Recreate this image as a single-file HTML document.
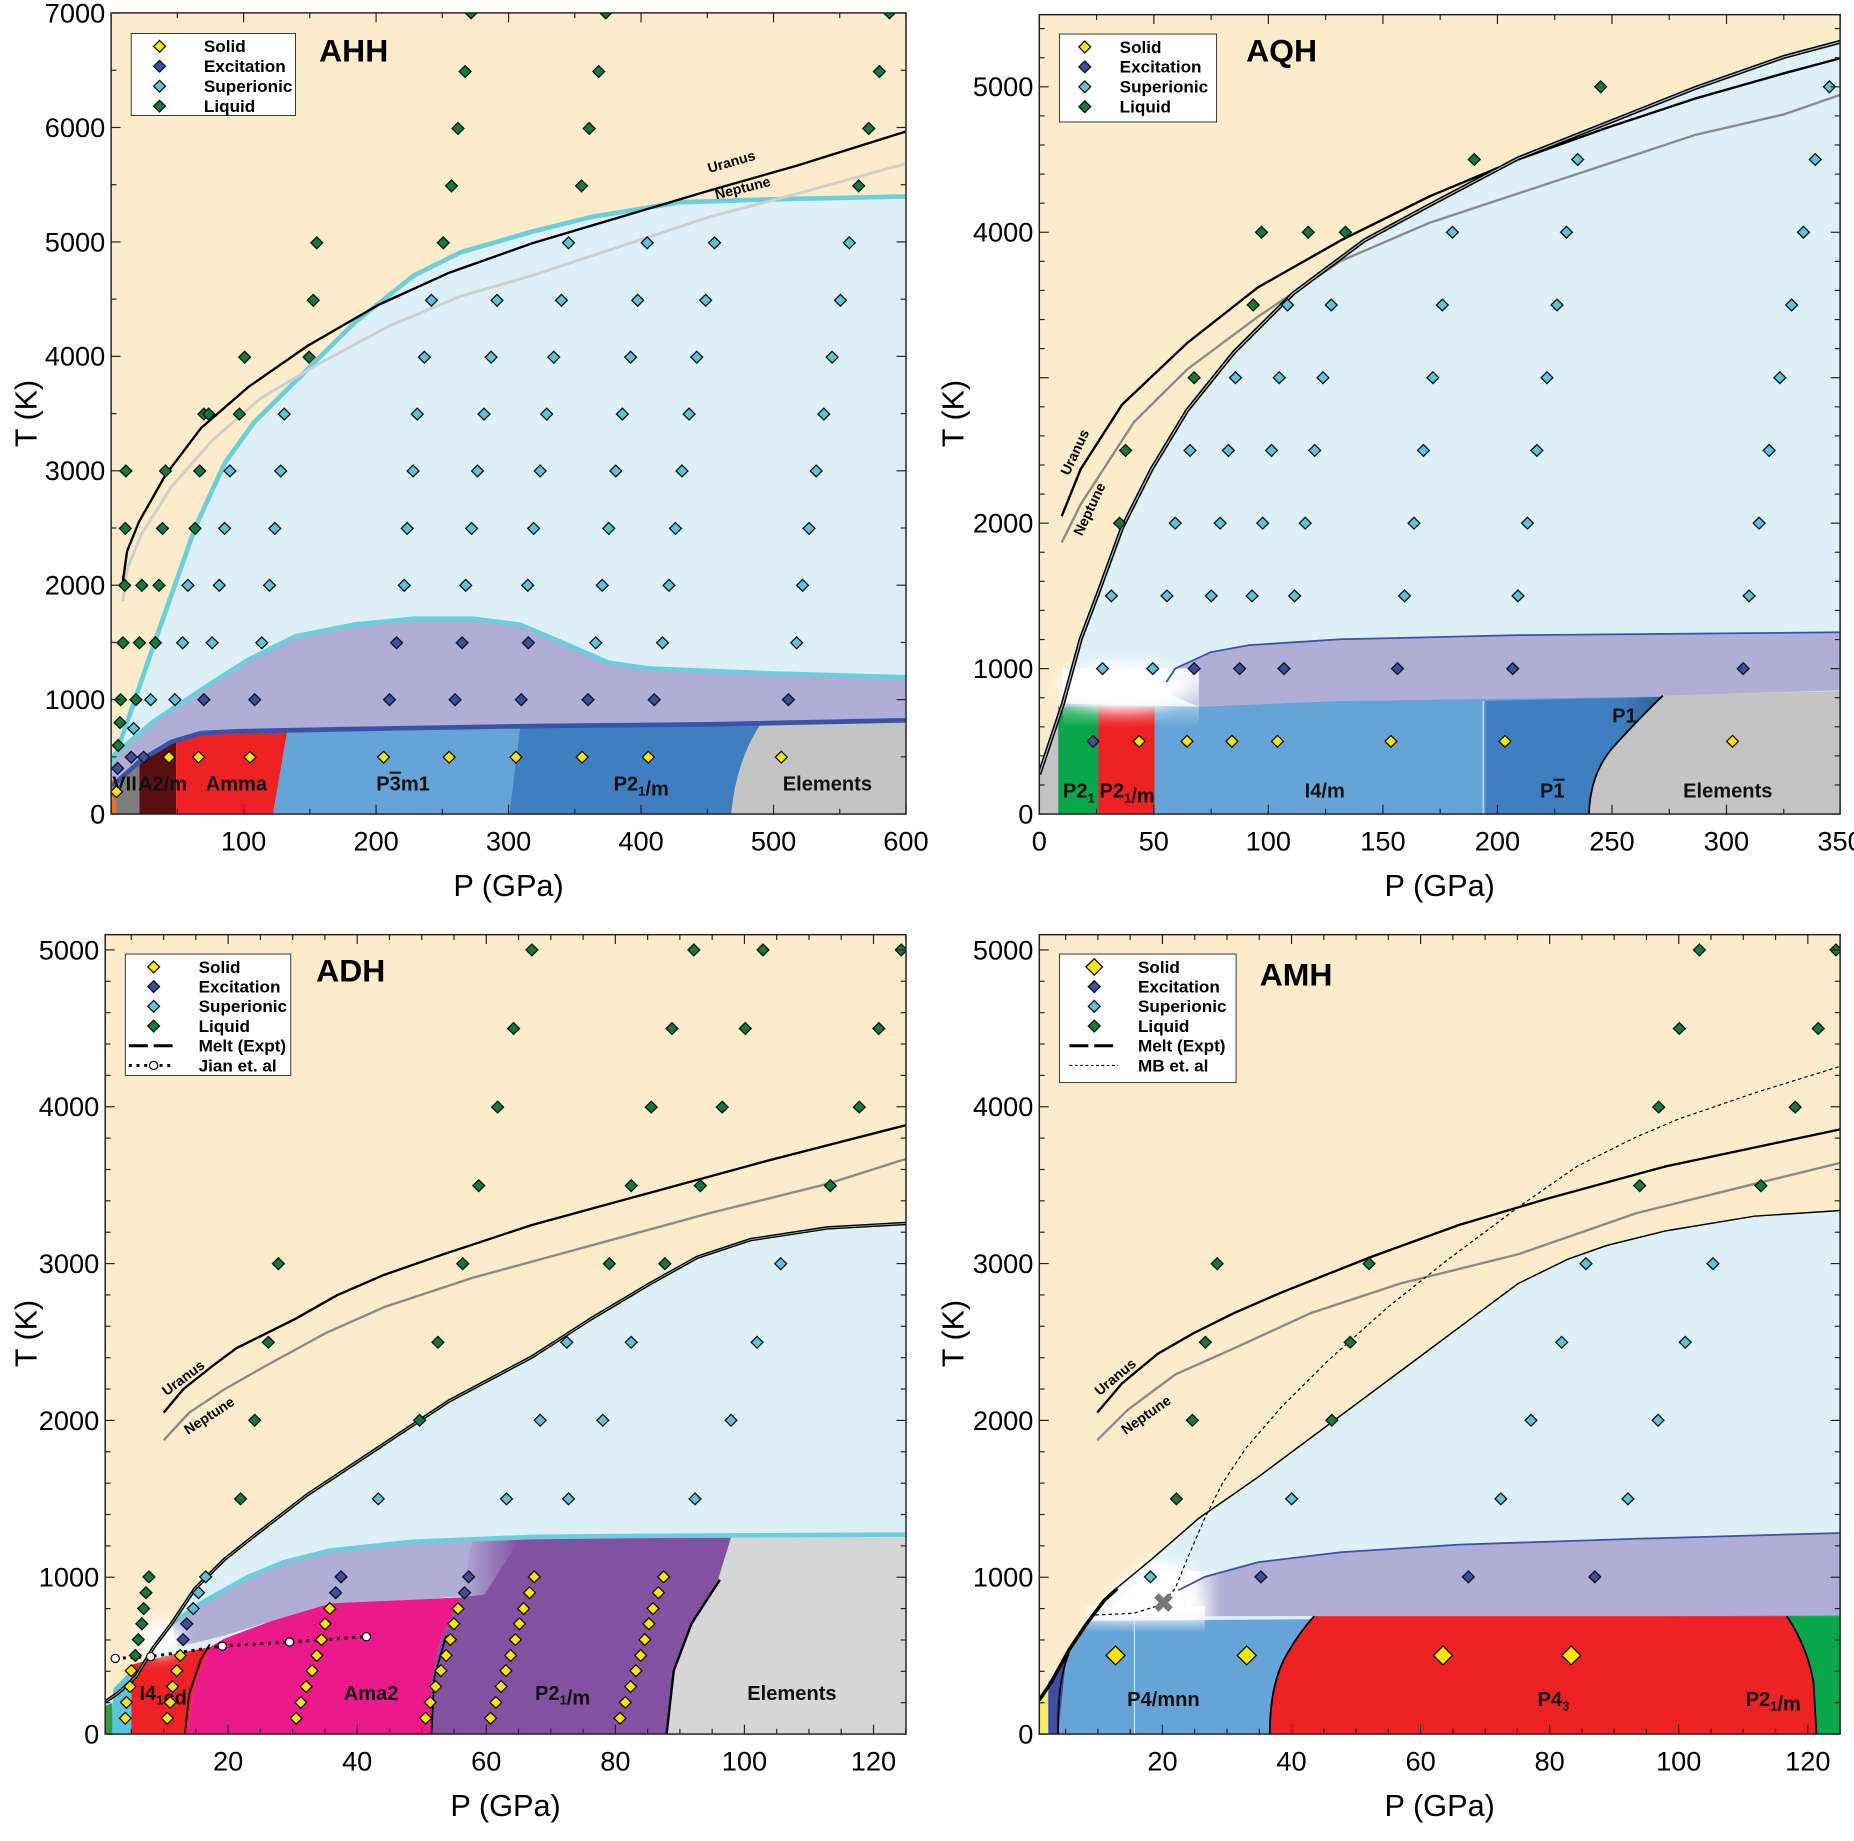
<!DOCTYPE html>
<html><head><meta charset="utf-8"><style>
html,body{margin:0;padding:0;background:#fff;}
svg{display:block;}
text{font-family:"Liberation Sans",Arial,sans-serif;}
</style></head><body>
<svg id="s" xmlns="http://www.w3.org/2000/svg" width="1854" height="1841" viewBox="0 0 1854 1841">
<defs>
<linearGradient id="fadeL" x1="0" x2="1" y1="0" y2="0"><stop offset="0" stop-color="#fff" stop-opacity="1"/><stop offset="1" stop-color="#fff" stop-opacity="0"/></linearGradient>
<linearGradient id="fadeT" x1="0" x2="0" y1="0" y2="1"><stop offset="0" stop-color="#fff" stop-opacity="1"/><stop offset="1" stop-color="#fff" stop-opacity="0"/></linearGradient>
<linearGradient id="pblue" x1="0" x2="1" y1="0" y2="0"><stop offset="0" stop-color="#3f7fc0"/><stop offset="0.75" stop-color="#3f7fc0"/><stop offset="1" stop-color="#2b5a8a"/></linearGradient>
<linearGradient id="lavP" x1="0" x2="1" y1="0" y2="0"><stop offset="0" stop-color="#b0aed6"/><stop offset="1" stop-color="#8251a0"/></linearGradient>
<filter id="blur" x="-50%" y="-50%" width="200%" height="200%"><feGaussianBlur stdDeviation="12"/></filter>
</defs>
</svg>
<script>
const NS="http://www.w3.org/2000/svg";
const svg=document.getElementById('s');
const SX=0.591,SY=0.5865;
function el(p,tag,attrs,txt){const e=document.createElementNS(NS,tag);for(const k in attrs)e.setAttribute(k,attrs[k]);if(txt!==undefined)e.textContent=txt;p.appendChild(e);return e;}
function L(pts){return 'M'+pts.map(p=>p[0]+','+p[1]).join(' L');}
const CREAM='#fdecca',SUP='#def0f7',LAV='#b0aed6',CYAN='#6ccedd',BLU='#3a52a8',RED='#ee2224',LB='#66a3d6',DB='#3f7fc0',GR='#c4c4c4',GRN='#0aa64a';
const COL={L:'#137a3f',S:'#5cc3d9',E:'#3d4fa0',Y:'#ffe600'};
function dia(g,x,y,c,r){r=r||10;el(g,'path',{d:`M${x},${y-r} L${x+r},${y} L${x},${y+r} L${x-r},${y} Z`,fill:COL[c]||c,stroke:'#111','stroke-width':2.2});}
let uid=0;
function panel(cfg){
  const g=el(svg,'g',{transform:`translate(${cfg.ox},${cfg.oy}) scale(${SX},${SY})`});
  const [x0,x1,y0,y1]=cfg.rect;
  const id='c'+(uid++);
  const cp=el(g,'clipPath',{id});el(cp,'rect',{x:x0,y:y0,width:x1-x0,height:y1-y0});
  const pg=el(g,'g',{'clip-path':`url(#${id})`});
  el(pg,'rect',{x:x0,y:y0,width:x1-x0,height:y1-y0,fill:CREAM});
  cfg.draw(pg);
  const tg=el(g,'g',{stroke:'#222','stroke-width':2});
  for(let P=cfg.xt[0];P<=cfg.xt[1]+1e-9;P+=cfg.xt[2]){
    let x=cfg.xa+cfg.xb*P; if(x<x0-4||x>x1+4)continue; x=Math.min(Math.max(x,x0),x1);
    const maj=Math.abs(P/cfg.xt[3]-Math.round(P/cfg.xt[3]))<1e-6; const l=maj?16:9;
    el(tg,'line',{x1:x,x2:x,y1:y1,y2:y1-l});el(tg,'line',{x1:x,x2:x,y1:y0,y2:y0+l});
    if(maj&&cfg.xl.includes(P))el(g,'text',{x:x,y:y1+62,'font-size':46,'text-anchor':'middle',fill:'#000'},P);
  }
  for(let T=0;T<=cfg.yt[1]+1e-9;T+=cfg.yt[0]){
    const y=y1-cfg.yb*T; if(y<y0-1)continue;
    const maj=T%1000==0; const l=maj?16:9;
    el(tg,'line',{x1:x0,x2:x0+l,y1:y,y2:y});el(tg,'line',{x1:x1,x2:x1-l,y1:y,y2:y});
    if(maj&&cfg.yl.includes(T))el(g,'text',{x:x0-10,y:y+16,'font-size':46,'text-anchor':'end',fill:'#000'},T);
  }
  el(g,'rect',{x:x0,y:y0,width:x1-x0,height:y1-y0,fill:'none',stroke:'#222','stroke-width':2.5});
  el(g,'text',{x:(x0+x1)/2,y:y1+140,'font-size':52,'text-anchor':'middle'},'P (GPa)');
  el(g,'text',{x:0,y:0,'font-size':52,'text-anchor':'middle',transform:`translate(62,705) rotate(-90)`},'T (K)');
  const lg=cfg.leg;
  el(g,'rect',{x:lg.x,y:lg.y,width:lg.w,height:lg.h,fill:'#fff',stroke:'#222','stroke-width':1.5});
  const names=[['Y','Solid'],['E','Excitation'],['S','Superionic'],['L','Liquid']].concat(lg.extra||[]);
  names.forEach((n,i)=>{const y=lg.y+22+i*lg.dy;
    if(n[0]=='melt'){el(g,'line',{x1:lg.mx-42,x2:lg.mx+35,y1:y,y2:y,stroke:'#000','stroke-width':5,'stroke-dasharray':'32,10'});}
    else if(n[0]=='jian'){el(g,'line',{x1:lg.mx-42,x2:lg.mx+35,y1:y,y2:y,stroke:'#000','stroke-width':5,'stroke-dasharray':'5,8'});el(g,'circle',{cx:lg.mx,cy:y,r:7,fill:'#fff',stroke:'#000','stroke-width':2});}
    else if(n[0]=='mb'){el(g,'line',{x1:lg.mx-42,x2:lg.mx+40,y1:y,y2:y,stroke:'#000','stroke-width':2,'stroke-dasharray':'5,4'});}
    else dia(g,lg.mx,y,n[0],(n[0]=='Y'&&lg.big)?14:10);
    el(g,'text',{x:lg.tx,y:y+10,'font-size':29,'font-weight':'bold'},n[1]);
  });
  el(g,'text',{x:cfg.title[1],y:cfg.title[2],'font-size':54,'font-weight':'bold'},cfg.title[0]);
  return g;
}
function lbl(g,x,y,t,anchor,sz){const e=el(g,'text',{x,y,'font-size':sz||34,'font-weight':'bold','text-anchor':anchor||'middle',fill:'#111'});e.innerHTML=t;return e;}
function rot(g,x,y,a,t){el(g,'text',{x:0,y:0,'font-size':24,'font-weight':'bold',transform:`translate(${x},${y}) rotate(${a})`},t);}
const sub=s=>`<tspan font-size="22" dy="8">${s}</tspan><tspan dy="-8"></tspan>`;
function pts(g,c,arr,r){arr.forEach(p=>dia(g,p[0],p[1],c,r));}

/* ---------- TL AHH ---------- */
panel({ox:0,oy:0,rect:[188,1533,22,1388],xa:188,xb:2.2417,xt:[0,600,50,100],xl:[100,200,300,400,500,600],yb:0.1951,yt:[500,7000],yl:[0,1000,2000,3000,4000,5000,6000,7000],
leg:{x:222,y:57,w:278,h:140,dy:34,mx:270,tx:345},title:['AHH',540,105],
draw(g){
 const cy=[[190,1300],[195,1290],[260,1100],[330,900],[380,790],[430,720],[480,670],[600,550],[700,470],[780,430],[900,395],[1000,370],[1150,345],[1300,340],[1533,335]];
 el(g,'path',{d:L(cy.concat([[1540,335],[1540,1388],[188,1388]]))+'Z',fill:SUP});
 const lt=[[190,1290],[260,1230],[350,1170],[420,1125],[500,1085],[600,1065],[700,1055],[800,1055],[880,1065],[950,1095],[1030,1130],[1100,1140],[1300,1148],[1540,1155]];
 const bl=[[190,1340],[240,1295],[290,1265],[340,1250],[400,1247],[600,1243],[900,1238],[1200,1235],[1540,1228]];
 el(g,'path',{d:L(lt.concat(bl.slice().reverse()))+'Z',fill:LAV});
 el(g,'path',{d:L(bl.concat([[1540,1388],[188,1388]]))+'Z',fill:GR});
 el(g,'path',{d:L(bl.slice(0,3).concat([[236,1300],[236,1388],[188,1388]]))+'Z',fill:'#7d7d7d'});
 el(g,'rect',{x:188,y:1330,width:9,height:58,fill:'#e8742a'});
 el(g,'path',{d:'M236,1300 L290,1265 L298,1262 L298,1388 L236,1388Z',fill:'#5a1010'});
 el(g,'path',{d:'M298,1262 L340,1250 L400,1247 L486,1246 L462,1388 L298,1388Z',fill:RED});
 el(g,'path',{d:'M486,1246 L880,1240 L862,1388 L462,1388Z',fill:LB});
 el(g,'path',{d:'M880,1240 L1286,1236 Q1245,1300 1237,1388 L862,1388Z',fill:DB});
 el(g,'path',{d:L(lt),fill:'none',stroke:CYAN,'stroke-width':8});
 el(g,'path',{d:L(bl),fill:'none',stroke:BLU,'stroke-width':8});
 el(g,'path',{d:L(cy),fill:'none',stroke:CYAN,'stroke-width':8});
 el(g,'path',{d:L([[208,1025],[215,970],[240,910],[290,830],[360,750],[440,680],[540,620],[660,555],[780,505],[900,470],[1050,420],[1200,370],[1350,330],[1540,277]]),fill:'none',stroke:'#cfcfcf','stroke-width':5});
 el(g,'path',{d:L([[208,990],[215,940],[235,890],[280,810],[340,730],[420,660],[520,590],[640,520],[760,465],[900,415],[1050,370],[1200,325],[1350,282],[1540,222]]),fill:'none',stroke:'#000','stroke-width':4});
 rot(g,1200,295,-16,'Uranus');rot(g,1212,340,-14,'Neptune');
 lbl(g,190,1348,'VII','start');lbl(g,275,1348,'A2/m');lbl(g,400,1348,'Amma');
 lbl(g,682,1348,'P<tspan text-decoration="overline">3</tspan>m1');lbl(g,1085,1348,'P2'+sub('1')+'/m');lbl(g,1400,1348,'Elements');
 pts(g,'L',[[797,22],[1025,22],[1505,22],[787,122],[1013,122],[1488,122],[775,219],[997,219],[1470,219],[764,317],[984,317],[1453,317],[536,414],[750,414],[530,512],[414,609],[523,609],[345,706],[353,706],[405,706],[213,803],[280,803],[338,803],[212,901],[275,901],[330,901],[211,998],[240,998],[269,998],[208,1096],[236,1096],[263,1096],[204,1193],[230,1193],[203,1232],[200,1271]]);
 pts(g,'S',[[962,414],[1095,414],[1209,414],[1437,414],[730,512],[841,512],[950,512],[1079,512],[1194,512],[1422,512],[718,609],[831,609],[937,609],[1067,609],[1179,609],[1408,609],[481,706],[706,706],[819,706],[925,706],[1053,706],[1166,706],[1394,706],[389,803],[475,803],[699,803],[808,803],[914,803],[1042,803],[1154,803],[1381,803],[380,901],[465,901],[689,901],[798,901],[903,901],[1030,901],[1143,901],[1369,901],[318,998],[371,998],[456,998],[684,998],[788,998],[893,998],[1019,998],[1132,998],[1358,998],[309,1096],[359,1096],[443,1096],[1008,1096],[1121,1096],[1348,1096],[255,1193],[296,1193],[226,1242]]);
 pts(g,'E',[[671,1096],[782,1096],[894,1096],[345,1193],[431,1193],[659,1193],[770,1193],[882,1193],[995,1193],[1107,1193],[1334,1193],[222,1291],[243,1291],[199,1310]]);
 pts(g,'Y',[[286,1291],[336,1291],[423,1291],[649,1291],[760,1291],[873,1291],[985,1291],[1097,1291],[1322,1291],[197,1350]]);
}});

/* ---------- TR AQH ---------- */
panel({ox:927,oy:0,rect:[190,1545,25,1388],xa:190,xb:3.876,xt:[0,350,25,50],xl:[0,50,100,150,200,250,300,350],yb:0.248,yt:[200,5400],yl:[0,1000,2000,4000,5000],
leg:{x:224,y:58,w:266,h:150,dy:34,mx:267,tx:326},title:['AQH',540,105],
draw(g){
 const m=[[190,1320],[230,1200],[260,1090],[290,1010],[330,900],[380,800],[440,700],[520,600],[620,500],[740,410],[850,350],[1000,270],[1150,210],[1300,150],[1450,97],[1550,70]];
 el(g,'path',{d:L(m.concat([[1550,1388],[190,1388]]))+'Z',fill:SUP});
 const bt=[[405,1163],[420,1140],[480,1112],[545,1100],[700,1090],[1000,1083],[1550,1078]];
 el(g,'path',{d:L(bt.concat([[1550,1177],[1200,1188],[700,1195],[460,1205],[400,1180]]))+'Z',fill:LAV});
 el(g,'path',{d:'M190,1388 L190,1320 L230,1200 L460,1205 L700,1195 L1200,1188 L1550,1180 L1550,1388Z',fill:LB});
 el(g,'path',{d:'M945,1388 L945,1195 L1250,1188 L1250,1388Z',fill:'url(#pblue)'});
 el(g,'path',{d:'M1120,1388 Q1122,1320 1160,1275 Q1200,1230 1245,1186 L1550,1178 L1550,1388Z',fill:GR});
 el(g,'path',{d:'M1120,1388 Q1122,1320 1160,1275 Q1200,1230 1245,1186',fill:'none',stroke:'#000','stroke-width':3});
 el(g,'rect',{x:222,y:1205,width:68,height:183,fill:GRN});
 el(g,'rect',{x:290,y:1205,width:95,height:183,fill:RED});
 el(g,'path',{d:'M190,1388 L190,1320 L222,1220 L222,1388Z',fill:GR});
 el(g,'rect',{x:230,y:1140,width:230,height:100,fill:'url(#fadeT)'});
 el(g,'ellipse',{cx:330,cy:1170,rx:110,ry:40,fill:'#fff',filter:'url(#blur)'});
 el(g,'path',{d:L(bt),fill:'none',stroke:BLU,'stroke-width':3});
 el(g,'line',{x1:941,x2:941,y1:1195,y2:1388,stroke:'#cfe3f3','stroke-width':2});
 el(g,'path',{d:L([[228,925],[260,860],[350,720],[440,630],[560,540],[700,445],[850,380],[1000,330],[1150,280],[1300,230],[1450,195],[1550,160]]),fill:'none',stroke:'#8a8a8a','stroke-width':4});
 el(g,'path',{d:L([[228,880],[260,800],[330,690],[440,585],[560,490],[700,410],[850,335],[1000,272],[1150,218],[1300,168],[1450,125],[1550,98]]),fill:'none',stroke:'#000','stroke-width':4});
 el(g,'path',{d:L(m),fill:'none',stroke:'#000','stroke-width':7});
 el(g,'path',{d:L(m),fill:'none',stroke:'#9fb7bf','stroke-width':2});
 rot(g,240,812,-65,'Uranus');rot(g,262,915,-65,'Neptune');
 lbl(g,230,1360,'P2'+sub('1'),'start');lbl(g,292,1360,'P2'+sub('1')+'/m','start');lbl(g,673,1360,'I4/m');
 lbl(g,1058,1360,'P<tspan text-decoration="overline">1</tspan>');lbl(g,1180,1232,'P1');lbl(g,1355,1360,'Elements');
 pts(g,'L',[[1140,148],[926,272],[566,396],[645,396],[708,396],[552,520],[452,644],[336,768],[326,892]]);
 pts(g,'S',[[1527,148],[1101,272],[1503,272],[889,396],[1082,396],[1483,396],[610,520],[684,520],[872,520],[1066,520],[1463,520],[522,644],[596,644],[670,644],[856,644],[1049,644],[1443,644],[445,768],[510,768],[583,768],[656,768],[840,768],[1032,768],[1425,768],[420,892],[496,892],[568,892],[640,892],[824,892],[1016,892],[1408,892],[312,1016],[406,1016],[481,1016],[550,1016],[622,1016],[808,1016],[1000,1016],[1391,1016],[297,1140],[382,1140]]);
 pts(g,'E',[[452,1140],[529,1140],[604,1140],[796,1140],[991,1140],[1381,1140],[281,1264]]);
 pts(g,'Y',[[359,1264],[440,1264],[516,1264],[593,1264],[785,1264],[978,1264],[1363,1264]]);
}});

/* ---------- BL ADH ---------- */
panel({ox:0,oy:920,rect:[178,1533,25,1388],xa:167.6,xb:10.92,xt:[5,125,5,20],xl:[20,40,60,80,100,120],yb:0.2674,yt:[200,5000],yl:[0,1000,2000,3000,4000,5000],
leg:{x:212,y:58,w:280,h:207,dy:33.6,mx:260,tx:336,extra:[['melt','Melt (Expt)'],['jian','Jian et. al']]},title:['ADH',535,105],
draw(g){
 const m=[[178,1333],[200,1318],[230,1290],[260,1240],[290,1200],[330,1140],[380,1090],[430,1050],[520,980],[640,900],[760,820],[900,745],[1000,680],[1100,620],[1180,575],[1270,545],[1400,525],[1540,517]];
 el(g,'path',{d:L(m.concat([[1540,1388],[178,1388]]))+'Z',fill:SUP});
 const cy=[[290,1200],[340,1165],[420,1120],[480,1095],[560,1075],[700,1060],[900,1052],[1100,1050],[1540,1048]];
 el(g,'path',{d:'M290,1200 L340,1165 L420,1120 L480,1095 L560,1075 L700,1060 L880,1055 L820,1150 L720,1158 L560,1165 L460,1195 L380,1220 L300,1240Z',fill:LAV});
 el(g,'path',{d:'M315,1388 L330,1300 L355,1240 L380,1225 L460,1195 L560,1165 L720,1158 L780,1155 L745,1230 L730,1300 L730,1388Z',fill:'#ec198b'});
 el(g,'path',{d:'M730,1388 L730,1300 L745,1230 L780,1155 L880,1053 L1237,1053 L1215,1125 L1170,1200 L1140,1280 L1128,1388Z',fill:'#8251a0'});
 el(g,'path',{d:'M780,1155 L820,1150 L880,1055 L860,1053 L800,1056Z',fill:'url(#lavP)'});
 el(g,'path',{d:'M1128,1388 L1140,1280 L1170,1200 L1215,1125 L1237,1053 L1540,1053 L1540,1388Z',fill:'#d6d6d6'});
 el(g,'path',{d:'M222,1388 L222,1270 L260,1260 L300,1250 L355,1240 L330,1300 L315,1388Z',fill:RED});
 el(g,'path',{d:'M188,1388 L192,1310 L222,1280 L222,1388Z',fill:'#5bc5dc'});
 el(g,'path',{d:'M178,1388 L178,1340 L190,1335 L190,1388Z',fill:'#3a9a3a'});
 el(g,'ellipse',{cx:270,cy:1225,rx:40,ry:30,fill:'#fff',filter:'url(#blur)'});
 el(g,'path',{d:L(cy),fill:'none',stroke:CYAN,'stroke-width':8});
 el(g,'path',{d:'M1128,1388 L1140,1280 L1170,1200 L1218,1125',fill:'none',stroke:'#000','stroke-width':4});
 el(g,'path',{d:'M313,1388 L320,1320 L340,1260 L355,1235',fill:'none',stroke:'#000','stroke-width':3});
 el(g,'path',{d:'M730,1388 L735,1290 L755,1220',fill:'none',stroke:'#000','stroke-width':3});
 el(g,'path',{d:L([[277,887],[320,840],[380,800],[450,760],[550,705],[650,660],[800,610],[1000,555],[1200,500],[1400,450],[1540,405]]),fill:'none',stroke:'#8a8a8a','stroke-width':4});
 el(g,'path',{d:L([[277,840],[310,800],[360,760],[400,730],[440,710],[500,680],[570,640],[650,605],[750,570],[900,520],[1100,465],[1300,410],[1540,348]]),fill:'none',stroke:'#000','stroke-width':4});
 el(g,'path',{d:L(m),fill:'none',stroke:'#000','stroke-width':6});
 el(g,'path',{d:L(m),fill:'none',stroke:'#8fb0a0','stroke-width':1.5});
 rot(g,282,812,-37,'Uranus');rot(g,318,878,-33,'Neptune');
 lbl(g,236,1330,'I4'+sub('1')+'cd','start');lbl(g,628,1330,'Ama2');lbl(g,952,1330,'P2'+sub('1')+'/m');lbl(g,1340,1330,'Elements');
 el(g,'path',{d:L([[195,1259],[255,1256],[376,1238],[490,1231],[620,1222]]),fill:'none',stroke:'#000','stroke-width':5,'stroke-dasharray':'5,8'});
 [[195,1259],[255,1256],[376,1238],[490,1231],[620,1222]].forEach(p=>el(g,'circle',{cx:p[0],cy:p[1],r:7,fill:'#fff',stroke:'#000','stroke-width':2}));
 pts(g,'L',[[900,51],[1174,51],[1291,51],[1525,51],[869,185],[1137,185],[1261,185],[1487,185],[842,319],[1102,319],[1222,319],[1454,319],[810,453],[1068,453],[1185,453],[1405,453],[471,586],[783,586],[1031,586],[1125,586],[454,720],[741,720],[431,853],[710,853],[407,987],[252,1120],[247,1147],[243,1174],[240,1200],[234,1227],[229,1254]]);
 pts(g,'S',[[1321,586],[959,720],[1068,720],[1281,720],[914,853],[1020,853],[1237,853],[640,987],[857,987],[962,987],[1176,987],[348,1120],[336,1147],[327,1174]]);
 pts(g,'E',[[577,1120],[568,1147],[316,1200],[310,1227],[793,1120],[786,1147]]);
 pts(g,'Y',[[222,1280],[220,1307],[214,1334],[212,1361],[305,1254],[299,1280],[292,1307],[288,1334],[283,1361],[558,1174],[550,1200],[544,1227],[536,1254],[528,1280],[518,1307],[509,1334],[501,1361],[775,1174],[768,1200],[762,1227],[755,1254],[746,1280],[737,1307],[728,1334],[720,1361],[904,1120],[896,1147],[886,1174],[879,1200],[872,1227],[864,1254],[856,1280],[848,1307],[839,1334],[830,1361],[1123,1120],[1114,1147],[1105,1174],[1098,1200],[1091,1227],[1084,1254],[1076,1280],[1067,1307],[1058,1334],[1049,1361]]);
}});

/* ---------- BR AMH ---------- */
panel({ox:927,oy:920,rect:[190,1545,25,1388],xa:180,xb:10.92,xt:[5,125,5,20],xl:[20,40,60,80,100,120],yb:0.2674,yt:[200,5000],yl:[0,1000,2000,3000,4000,5000],
leg:{x:224,y:58,w:299,h:219,dy:33.6,mx:283,tx:357,big:true,extra:[['melt','Melt (Expt)'],['mb','MB et. al']]},title:['AMH',563,112],
draw(g){
 const m=[[190,1330],[210,1300],[240,1245],[270,1200],[300,1160],[320,1140],[380,1090],[460,1020],[560,950],[680,860],[800,770],[920,680],[1000,620],[1085,578],[1150,555],[1250,530],[1400,505],[1550,495]];
 el(g,'path',{d:L(m.concat([[1550,1388],[190,1388]]))+'Z',fill:SUP});
 const bt=[[425,1143],[470,1120],[560,1095],[700,1078],[900,1065],[1200,1055],[1550,1045]];
 el(g,'path',{d:L(bt.concat([[1550,1187],[440,1187]]))+'Z',fill:LAV});
 el(g,'path',{d:'M222,1388 L230,1270 L250,1230 L275,1195 L1550,1185 L1550,1388Z',fill:LB});
 el(g,'path',{d:'M580,1388 Q580,1300 610,1250 Q630,1215 655,1187 L1455,1187 Q1490,1240 1500,1300 L1505,1388Z',fill:RED});
 el(g,'path',{d:'M1455,1187 Q1490,1240 1500,1300 L1505,1388 L1550,1388 L1550,1187Z',fill:GRN});
 el(g,'path',{d:'M580,1388 Q580,1300 610,1250 Q630,1215 655,1187',fill:'none',stroke:'#000','stroke-width':3});
 el(g,'path',{d:'M1455,1187 Q1490,1240 1500,1300 L1505,1388',fill:'none',stroke:'#000','stroke-width':3});
 el(g,'path',{d:'M205,1388 L205,1300 L235,1260 L222,1388Z',fill:'#3e4ea3'});
 el(g,'path',{d:'M190,1388 L190,1320 L205,1305 L205,1388Z',fill:'#f6eb6a'});
 el(g,'path',{d:'M222,1388 Q220,1300 240,1250',fill:'none',stroke:'#000','stroke-width':3});
 el(g,'path',{d:'M290,1185 L320,1140 L380,1090 L440,1100 L470,1187 Z',fill:'#fff',filter:'url(#blur)'});
 el(g,'rect',{x:270,y:1170,width:200,height:45,fill:'url(#fadeT)'});
 el(g,'rect',{x:440,y:1110,width:60,height:77,fill:'url(#fadeL)'});
 el(g,'line',{x1:351,x2:351,y1:1195,y2:1388,stroke:'#cfe3f3','stroke-width':2});
 el(g,'path',{d:L(bt),fill:'none',stroke:BLU,'stroke-width':3});
 el(g,'path',{d:L([[288,887],[340,835],[420,775],[520,730],[650,670],[800,620],[1000,570],[1200,500],[1400,450],[1550,413]]),fill:'none',stroke:'#8a8a8a','stroke-width':4});
 el(g,'path',{d:L([[288,840],[330,790],[390,740],[450,705],[520,670],[600,635],[750,575],[900,520],[1050,475],[1250,420],[1550,356]]),fill:'none',stroke:'#000','stroke-width':4});
 el(g,'path',{d:L(m),fill:'none',stroke:'#000','stroke-width':2.5});
 el(g,'path',{d:'M190,1330 L210,1300 L240,1245 L270,1200 L300,1160 L322,1140',fill:'none',stroke:'#000','stroke-width':6});
 el(g,'path',{d:L([[285,1185],[350,1182],[395,1168],[420,1140],[440,1090],[470,1020],[500,960],[540,900],[600,830],[680,750],[780,660],[880,580],[1000,490],[1100,420],[1200,370],[1270,340],[1400,295],[1550,248]]),fill:'none',stroke:'#000','stroke-width':2,'stroke-dasharray':'6,5'});
 el(g,'text',{x:400,y:1180,'font-size':44,'font-weight':'bold','text-anchor':'middle',fill:'#777'},'✖');
 rot(g,292,812,-40,'Uranus');rot(g,336,878,-35,'Neptune');
 lbl(g,400,1340,'P4/mnn');lbl(g,1060,1340,'P4'+sub('3'));lbl(g,1432,1340,'P2'+sub('1')+'/m');
 pts(g,'L',[[1307,51],[1538,51],[1273,185],[1508,185],[1238,319],[1469,319],[1206,453],[1411,453],[491,586],[748,586],[471,720],[716,720],[449,853],[685,853],[422,987]]);
 pts(g,'S',[[1115,586],[1330,586],[1074,720],[1283,720],[1022,853],[1237,853],[617,987],[971,987],[1186,987],[378,1120]]);
 pts(g,'E',[[565,1120],[916,1120],[1130,1120]]);
 pts(g,'Y',[[319,1254],[541,1254],[873,1254],[1090,1254]],16);
}});
</script>
</body></html>
